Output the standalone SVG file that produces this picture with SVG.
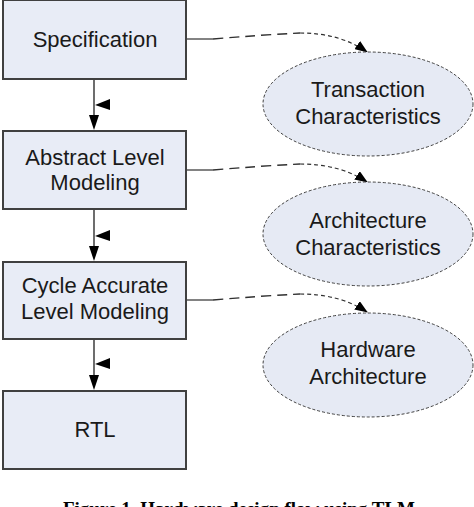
<svg xmlns="http://www.w3.org/2000/svg" width="474" height="507" viewBox="0 0 474 507">
<style>
.box{fill:#e8ecf6;stroke:#404040;stroke-width:2}
.ell{fill:#e6eaf4;stroke:#404040;stroke-width:1;stroke-dasharray:3,2}
.t{font-family:"Liberation Sans",Arial,sans-serif;font-size:22px;fill:#1a1a1a;text-anchor:middle}
.v{stroke:#202020;stroke-width:1.3;fill:none}
.sol{stroke:#303030;stroke-width:1.2;fill:none}
.d1{stroke:#303030;stroke-width:1.4;fill:none;stroke-dasharray:10,6}
.d2{stroke:#303030;stroke-width:1.2;fill:none;stroke-dasharray:4,3}
.ah{fill:#000}
.cap{font-family:"Liberation Serif","Times New Roman",serif;font-size:19px;font-weight:bold;fill:#000;text-anchor:middle}
</style>
<defs>
<marker id="arr" markerWidth="13" markerHeight="10" refX="12" refY="5" orient="auto" markerUnits="userSpaceOnUse">
<path d="M0,0 L13,5 L0,10 Z" fill="#000"/>
</marker>
</defs>
<g id="connectors">
<line class="v" x1="94" y1="79" x2="94" y2="116"/>
<path class="ah" d="M89,115 L99,115 L94,130 Z"/>
<path class="ah" d="M95,105 L110,99 L110,110 Z"/>
<line class="v" x1="94" y1="210" x2="94" y2="247"/>
<path class="ah" d="M89,246 L99,246 L94,261 Z"/>
<path class="ah" d="M95,236 L110,230 L110,241 Z"/>
<line class="v" x1="94" y1="340" x2="94" y2="376"/>
<path class="ah" d="M89,375 L99,375 L94,390 Z"/>
<path class="ah" d="M95,364 L110,358 L110,369 Z"/>
<path class="sol" d="M186,39 L213,39"/>
<path class="d1" d="M213,39 Q260,35 300,33"/>
<path class="d2" d="M300,33 Q340,33 367,52" marker-end="url(#arr)"/>
<path class="sol" d="M186,170 L213,170"/>
<path class="d1" d="M213,170 Q260,166 300,164"/>
<path class="d2" d="M300,164 Q340,164 367,182" marker-end="url(#arr)"/>
<path class="sol" d="M186,300 L213,300"/>
<path class="d1" d="M213,300 Q260,296 300,294"/>
<path class="d2" d="M300,294 Q340,294 367,312" marker-end="url(#arr)"/>
</g>
<g id="spec">
<rect class="box" x="3" y="0" width="183" height="79"/>
<text class="t" x="95" y="47">Specification</text>
</g>
<g id="abstract">
<rect class="box" x="3" y="131" width="183" height="78"/>
<text class="t" x="95" y="165">Abstract Level</text>
<text class="t" x="95" y="190">Modeling</text>
</g>
<g id="cycle">
<rect class="box" x="3" y="262" width="183" height="77"/>
<text class="t" x="95" y="293">Cycle Accurate</text>
<text class="t" x="95" y="319">Level Modeling</text>
</g>
<g id="rtl">
<rect class="box" x="3" y="391" width="183" height="78"/>
<text class="t" x="95" y="437">RTL</text>
</g>
<g id="trans">
<ellipse class="ell" cx="368" cy="104" rx="105" ry="52"/>
<text class="t" x="368" y="97">Transaction</text>
<text class="t" x="368" y="124">Characteristics</text>
</g>
<g id="archchar">
<ellipse class="ell" cx="368" cy="234" rx="105" ry="52"/>
<text class="t" x="368" y="228">Architecture</text>
<text class="t" x="368" y="255">Characteristics</text>
</g>
<g id="hwarch">
<ellipse class="ell" cx="368" cy="365" rx="105" ry="52"/>
<text class="t" x="368" y="357">Hardware</text>
<text class="t" x="368" y="384">Architecture</text>
</g>
<text class="cap" x="239" y="515">Figure 1. Hardware design flow using TLM</text>
</svg>
